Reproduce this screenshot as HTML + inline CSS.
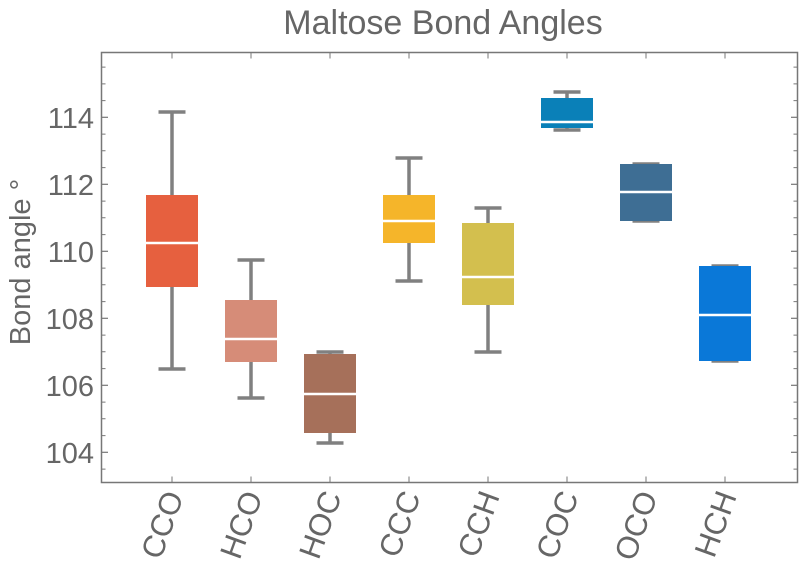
<!DOCTYPE html><html><head><style>body{margin:0;background:#fff}svg{display:block}text{font-family:"Liberation Sans",sans-serif;fill:#666}</style></head><body>
<svg width="802" height="570" viewBox="0 0 802 570">
<text x="443" y="34" font-size="34" text-anchor="middle">Maltose Bond Angles</text>
<rect x="101.5" y="52.5" width="696" height="430" fill="none" stroke="#777" stroke-width="1.5"/>
<g stroke="#777" stroke-width="1.2">
<line x1="101.5" y1="117.3" x2="108" y2="117.3"/><line x1="101.5" y1="184.3" x2="108" y2="184.3"/><line x1="101.5" y1="251.3" x2="108" y2="251.3"/><line x1="101.5" y1="318.3" x2="108" y2="318.3"/><line x1="101.5" y1="385.3" x2="108" y2="385.3"/><line x1="101.5" y1="452.3" x2="108" y2="452.3"/>
<line x1="797.5" y1="117.3" x2="791" y2="117.3"/><line x1="797.5" y1="184.3" x2="791" y2="184.3"/><line x1="797.5" y1="251.3" x2="791" y2="251.3"/><line x1="797.5" y1="318.3" x2="791" y2="318.3"/><line x1="797.5" y1="385.3" x2="791" y2="385.3"/><line x1="797.5" y1="452.3" x2="791" y2="452.3"/>
</g>
<g stroke="#777" stroke-width="1">
<path d="M101.5 67.1h4M101.5 83.9h4M101.5 100.6h4M101.5 134.1h4M101.5 150.8h4M101.5 167.6h4M101.5 201.1h4M101.5 217.8h4M101.5 234.6h4M101.5 268.1h4M101.5 284.8h4M101.5 301.6h4M101.5 335.1h4M101.5 351.8h4M101.5 368.6h4M101.5 402.1h4M101.5 418.8h4M101.5 435.6h4M101.5 469.1h4"/>
<path d="M797.5 67.1h-4M797.5 83.9h-4M797.5 100.6h-4M797.5 134.1h-4M797.5 150.8h-4M797.5 167.6h-4M797.5 201.1h-4M797.5 217.8h-4M797.5 234.6h-4M797.5 268.1h-4M797.5 284.8h-4M797.5 301.6h-4M797.5 335.1h-4M797.5 351.8h-4M797.5 368.6h-4M797.5 402.1h-4M797.5 418.8h-4M797.5 435.6h-4M797.5 469.1h-4"/>
<path d="M172 52.5v6M251 52.5v6M330 52.5v6M409 52.5v6M488 52.5v6M567 52.5v6M646 52.5v6M725 52.5v6M172 482.5v-6M251 482.5v-6M330 482.5v-6M409 482.5v-6M488 482.5v-6M567 482.5v-6M646 482.5v-6M725 482.5v-6"/>
</g>
<g font-size="29" text-anchor="end">
<text x="94" y="128">114</text><text x="94" y="195">112</text><text x="94" y="262">110</text><text x="94" y="329">108</text><text x="94" y="396">106</text><text x="94" y="463">104</text>
</g>
<text transform="translate(30,262) rotate(-90)" font-size="29" text-anchor="middle">Bond angle °</text>
<g font-size="31" text-anchor="end">
<text transform="translate(184,496) rotate(-70)">CCO</text>
<text transform="translate(263,496) rotate(-70)">HCO</text>
<text transform="translate(342,496) rotate(-70)">HOC</text>
<text transform="translate(421,496) rotate(-70)">CCC</text>
<text transform="translate(500,496) rotate(-70)">CCH</text>
<text transform="translate(579,496) rotate(-70)">COC</text>
<text transform="translate(658,496) rotate(-70)">OCO</text>
<text transform="translate(737,496) rotate(-70)">HCH</text>
</g>
<g stroke="#808080" stroke-width="3.5">
<path d="M172 112V369M158.5 112h27M158.5 369h27"/>
<path d="M251 260V398M237.5 260h27M237.5 398h27"/>
<path d="M330 352V443M316.5 352h27M316.5 443h27"/>
<path d="M409 158V281M395.5 158h27M395.5 281h27"/>
<path d="M488 208V352M474.5 208h27M474.5 352h27"/>
<path d="M567 92V130M553.5 92h27M553.5 130h27"/>
<path d="M646 164V221M632.5 164h27M632.5 221h27"/>
<path d="M725 266V361M711.5 266h27M711.5 361h27"/>
</g>
<rect x="146" y="195" width="52" height="92" fill="#E6603F"/>
<rect x="225" y="300" width="52" height="62" fill="#D68C78"/>
<rect x="304" y="354" width="52" height="79" fill="#A6705A"/>
<rect x="383" y="195" width="52" height="48" fill="#F5B52A"/>
<rect x="462" y="223" width="52" height="82" fill="#D3BF4E"/>
<rect x="541" y="98" width="52" height="30" fill="#0A80B8"/>
<rect x="620" y="164" width="52" height="57" fill="#3E6E94"/>
<rect x="699" y="266" width="52" height="95" fill="#0A78D8"/>
<g stroke="#fff" stroke-width="2.5">
<path d="M146 243h52M225 339h52M304 394h52M383 221h52M462 277h52M541 122h52M620 192h52M699 315h52"/>
</g>
</svg></body></html>
